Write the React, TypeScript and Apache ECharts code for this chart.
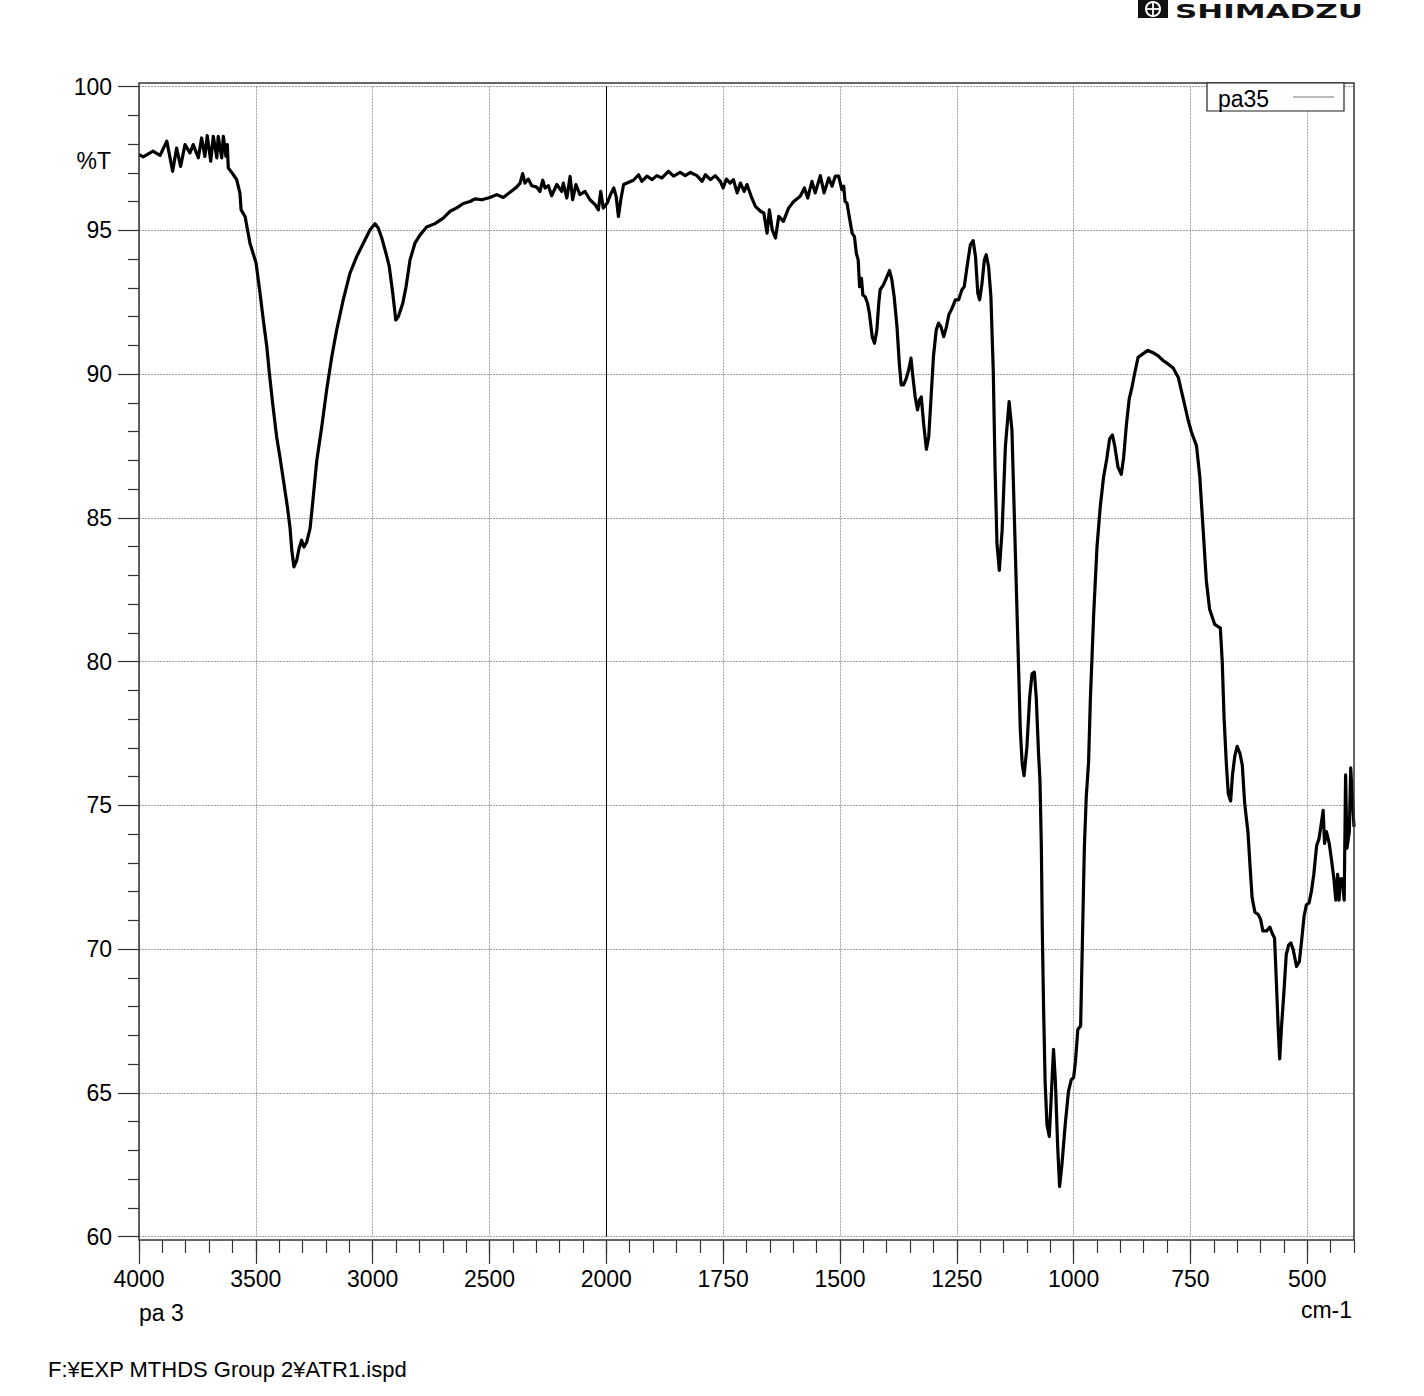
import React, { useEffect, useRef } from "react";
import * as echarts from "echarts";

// Wavenumber (cm-1) and %T
const wavenumbers = [
  3999, 3982, 3940, 3910, 3881, 3856, 3839, 3822, 3803, 3782, 3768, 3746, 3732, 3718, 3708, 3693, 3682, 3667, 3661, 3646,
  3639, 3628, 3622, 3618, 3596, 3582, 3568, 3563, 3546, 3525, 3499, 3482, 3468, 3453, 3442, 3428, 3411, 3397, 3382, 3365,
  3354, 3346, 3337, 3325, 3315, 3304, 3294, 3282, 3268, 3257, 3239, 3218, 3197, 3175, 3154, 3126, 3097, 3068, 3040, 3011,
  2990, 2976, 2961, 2943, 2929, 2914, 2901, 2890, 2871, 2857, 2840, 2819, 2797, 2769, 2733, 2698, 2669, 2640, 2612, 2583,
  2562, 2533, 2498, 2469, 2441, 2412, 2384, 2369, 2358, 2348, 2334, 2319, 2298, 2284, 2272, 2262, 2248, 2234, 2212, 2191,
  2184, 2169, 2155, 2144, 2130, 2113, 2091, 2070, 2048, 2034, 2024, 2013, 1998, 1991, 1984, 1979, 1974, 1969, 1963, 1952,
  1942, 1931, 1924, 1913, 1902, 1892, 1881, 1867, 1856, 1842, 1831, 1820, 1806, 1795, 1788, 1777, 1767, 1756, 1750, 1743,
  1735, 1728, 1720, 1713, 1705, 1699, 1690, 1681, 1670, 1663, 1656, 1651, 1645, 1638, 1631, 1621, 1610, 1599, 1585, 1576,
  1569, 1560, 1553, 1542, 1534, 1524, 1517, 1510, 1503, 1496, 1492, 1489, 1485, 1479, 1474, 1469, 1465, 1461, 1458, 1454,
  1451, 1446, 1441, 1437, 1431, 1426, 1421, 1417, 1414, 1407, 1401, 1394, 1389, 1384, 1378, 1373, 1369, 1364, 1358, 1353,
  1348, 1344, 1339, 1334, 1330, 1326, 1321, 1315, 1310, 1305, 1300, 1294, 1289, 1284, 1278, 1272, 1267, 1260, 1253, 1246,
  1239, 1234, 1228, 1221, 1215, 1210, 1205, 1201, 1196, 1191, 1187, 1182, 1177, 1172, 1168, 1164, 1159, 1153, 1146, 1138,
  1132, 1127, 1123, 1118, 1114, 1110, 1106, 1100, 1094, 1089, 1084, 1080, 1075, 1072, 1069, 1067, 1064, 1061, 1057, 1052,
  1048, 1043, 1039, 1034, 1030, 1025, 1018, 1011, 1005, 1000, 996, 991, 985, 983, 980, 977, 973, 968, 964, 957,
  950, 943, 936, 929, 923, 917, 912, 905, 898, 893, 887, 881, 876, 869, 862, 851, 841, 830, 819, 808,
  798, 787, 776, 769, 762, 755, 748, 737, 730, 723, 716, 709, 698, 686, 682, 678, 673, 669, 664, 660,
  655, 650, 644, 639, 634, 627, 622, 618, 612, 605, 600, 595, 587, 580, 575, 570, 566, 562, 559, 555,
  550, 545, 540, 535, 530, 523, 517, 512, 507, 502, 496, 491, 486, 480, 475, 471, 466, 463, 459, 453,
  448, 443, 439, 435, 432, 429, 425, 421, 418, 415, 410, 407, 404, 400,
];

const transmittance = [
  97.63, 97.55, 97.75, 97.6, 98.1, 97.05, 97.86, 97.22, 97.98, 97.69, 97.98, 97.52, 98.21, 97.57, 98.29, 97.4, 98.27, 97.52, 98.27, 97.52,
  98.27, 97.57, 97.98, 97.17, 96.93, 96.76, 96.29, 95.71, 95.48, 94.55, 93.86, 92.81, 91.88, 90.95, 90.02, 88.98, 87.82, 87.12, 86.31, 85.38,
  84.68, 83.87, 83.29, 83.52, 83.93, 84.22, 83.98, 84.16, 84.62, 85.49, 87.0, 88.16, 89.44, 90.6, 91.53, 92.58, 93.51, 94.09, 94.55, 95.02,
  95.23, 95.08, 94.73, 94.2, 93.74, 92.81, 91.88, 92.0, 92.46, 93.04, 93.97, 94.55, 94.84, 95.11, 95.23, 95.42, 95.66, 95.78, 95.93, 96.0,
  96.09, 96.06, 96.14, 96.24, 96.14, 96.32, 96.5, 96.64, 96.97, 96.64, 96.78, 96.55, 96.5, 96.35, 96.74, 96.47, 96.55, 96.2, 96.59, 96.35,
  96.64, 96.12, 96.87, 96.06, 96.59, 96.24, 96.35, 96.06, 95.89, 95.71, 96.35, 95.77, 95.95, 96.24, 96.47, 96.18, 95.48, 96.06, 96.59, 96.67,
  96.74, 96.93, 96.7, 96.88, 96.76, 96.9, 96.82, 97.05, 96.88, 97.01, 96.9, 97.01, 96.9, 96.7, 96.93, 96.76, 96.9, 96.7, 96.47, 96.78,
  96.64, 96.76, 96.3, 96.64, 96.35, 96.59, 96.18, 95.83, 95.66, 95.6, 94.9, 95.71, 95.02, 94.73, 95.48, 95.31, 95.77, 96.0, 96.18, 96.47,
  96.12, 96.7, 96.3, 96.9, 96.3, 96.82, 96.53, 96.88, 96.88, 96.41, 96.53, 96.0, 95.95, 95.37, 94.9, 94.78, 94.2, 93.97, 93.04, 93.33,
  92.75, 92.69, 92.46, 92.11, 91.3, 91.07, 91.53, 92.46, 92.93, 93.1, 93.33, 93.6, 93.28, 92.69, 91.65, 90.37, 89.62, 89.62, 89.85, 90.14,
  90.55, 89.91, 89.2, 88.75, 89.09, 89.2, 88.28, 87.38, 87.82, 89.2, 90.6, 91.53, 91.77, 91.65, 91.3, 91.65, 92.06, 92.29, 92.58, 92.58,
  92.93, 93.04, 93.74, 94.49, 94.64, 94.09, 92.81, 92.58, 93.16, 93.97, 94.15, 93.74, 92.69, 90.14, 86.66, 84.1, 83.17, 84.56, 87.47, 89.04,
  88.05, 85.15, 82.82, 79.92, 77.6, 76.43, 76.03, 77.02, 78.76, 79.57, 79.63, 78.76, 76.78, 75.85, 73.53, 70.63, 67.73, 65.4, 63.89, 63.48,
  64.82, 66.51, 65.4, 63.08, 61.74, 62.5, 63.89, 65.05, 65.46, 65.52, 66.1, 67.2, 67.32, 68.89, 71.21, 73.53, 75.27, 76.5, 78.76, 81.66,
  83.98, 85.38, 86.4, 87.05, 87.74, 87.88, 87.5, 86.76, 86.51, 87.09, 88.24, 89.14, 89.47, 90.05, 90.58, 90.71, 90.82, 90.74, 90.63, 90.46,
  90.35, 90.21, 89.88, 89.39, 88.9, 88.4, 87.99, 87.5, 86.43, 84.62, 82.81, 81.82, 81.29, 81.16, 80.01, 78.03, 76.39, 75.4, 75.15, 76.06,
  76.72, 77.05, 76.8, 76.39, 75.07, 74.08, 72.77, 71.78, 71.28, 71.2, 71.04, 70.63, 70.63, 70.76, 70.54, 70.38, 68.81, 67.17, 66.18, 67.33,
  68.49, 69.8, 70.13, 70.21, 69.97, 69.39, 69.56, 70.3, 71.12, 71.53, 71.61, 72.02, 72.6, 73.59, 73.83, 74.25, 74.82, 73.67, 74.08, 73.67,
  73.09, 72.44, 71.7, 72.6, 71.7, 72.44, 72.44, 71.7, 76.06, 73.51, 74.08, 76.3, 75.4, 74.25,
];

const xTickLabels = [4000, 3500, 3000, 2500, 2000, 1750, 1500, 1250, 1000, 750, 500];
const xMinorStep = 50; // axis position units
const yMin = 60;
const yMax = 100;
const yStep = 5;
const seriesName = "pa35";
const sampleLabel = "pa 3";
const unitLabel = "cm-1";
const yUnitLabel = "%T";
const filePath = "F:¥EXP MTHDS Group 2¥ATR1.ispd";
const brand = "SHIMADZU";

// Split scale: 4000-2000 compressed by 2, 2000-400 at full scale
function toPos(w: number): number {
  return w >= 2000 ? (4000 - w) / 2 : 3000 - w;
}
function toWave(p: number): number {
  return p <= 1000 ? 4000 - 2 * p : 3000 - p;
}

const FONT = "'Liberation Sans', Arial, sans-serif";

export default function App() {
  const ref = useRef<HTMLDivElement>(null);

  useEffect(() => {
    document.body.style.margin = "0";
    if (!ref.current) return;
    const chart = echarts.init(ref.current, undefined, { renderer: "svg" });

    const data = wavenumbers.map((w, i) => [toPos(w), transmittance[i]]);
    const majorPos = xTickLabels.map(toPos);
    const xMax = toPos(400);

    const gridLeft = 139;
    const gridRight = 1354;
    const gridTop = 86.5;
    const gridBottom = 1236.5;

    chart.setOption({
      animation: false,
      backgroundColor: "#fff",
      grid: {
        left: gridLeft,
        top: gridTop,
        width: gridRight - gridLeft,
        height: gridBottom - gridTop,
        containLabel: false,
      },
      xAxis: [
        {
          type: "value",
          position: "bottom",
          min: 0,
          max: xMax,
          interval: 250,
          offset: 3.5,
          axisLine: { show: false },
          axisTick: {
            show: true,
            inside: false,
            length: 24,
            customValues: majorPos,
            lineStyle: { color: "#333", width: 1.2 },
          },
          axisLabel: {
            show: true,
            customValues: majorPos,
            margin: 27,
            fontSize: 23,
            fontFamily: FONT,
            color: "#000",
            formatter: (v: number) => (majorPos.includes(v) ? String(toWave(v)) : ""),
          },
          splitLine: {
            show: true,
            lineStyle: { color: "#a0a0a0", type: [2, 1], width: 1 },
          },
        },
        {
          type: "value",
          position: "bottom",
          min: 0,
          max: xMax,
          interval: xMinorStep,
          offset: 3.5,
          axisLine: { show: false },
          axisTick: {
            show: true,
            inside: false,
            length: 13,
            lineStyle: { color: "#333", width: 1.2 },
          },
          axisLabel: { show: false },
          splitLine: { show: false },
        },
      ],
      yAxis: {
        type: "value",
        min: yMin,
        max: yMax,
        interval: yStep,
        axisLine: { show: false },
        axisTick: {
          show: true,
          inside: false,
          length: 21,
          lineStyle: { color: "#333", width: 1.2 },
        },
        minorTick: {
          show: true,
          splitNumber: 5,
          length: 11,
          lineStyle: { color: "#333", width: 1.2 },
        },
        axisLabel: {
          margin: 27,
          fontSize: 23,
          fontFamily: FONT,
          color: "#000",
        },
        splitLine: {
          show: true,
          lineStyle: { color: "#a0a0a0", type: [2, 1], width: 1 },
        },
      },
      series: [
        {
          name: seriesName,
          type: "line",
          xAxisIndex: 0,
          data,
          showSymbol: false,
          symbol: "none",
          smooth: false,
          lineStyle: { color: "#000", width: 3.2, join: "round" },
          z: 5,
          markLine: {
            silent: true,
            symbol: "none",
            label: { show: false },
            lineStyle: { color: "#000", type: "solid", width: 1 },
            data: [{ xAxis: toPos(2000) }],
            z: 3,
          },
        },
      ],
      graphic: [
        // plot frame
        {
          type: "rect",
          z: 20,
          silent: true,
          shape: { x: gridLeft, y: 83, width: gridRight - gridLeft, height: 1240 - 83 },
          style: { fill: "none", stroke: "#333", lineWidth: 1.5 },
        },
        // legend box
        {
          type: "rect",
          z: 21,
          shape: { x: 1207, y: 83, width: 137, height: 28 },
          style: { fill: "#fff", stroke: "#222", lineWidth: 1.2 },
        },
        {
          type: "text",
          z: 22,
          x: 1218,
          y: 99,
          style: {
            text: seriesName,
            fontSize: 23,
            fontFamily: FONT,
            fill: "#000",
            verticalAlign: "middle",
            align: "left",
          },
        },
        {
          type: "line",
          z: 22,
          shape: { x1: 1293, y1: 97, x2: 1334, y2: 97 },
          style: { stroke: "#777", lineWidth: 1 },
        },
        // y unit
        {
          type: "text",
          x: 111,
          y: 161,
          style: {
            text: yUnitLabel,
            fontSize: 23,
            fontFamily: FONT,
            fill: "#000",
            align: "right",
            verticalAlign: "middle",
          },
        },
        // sample label
        {
          type: "text",
          x: 139,
          y: 1313,
          style: {
            text: sampleLabel,
            fontSize: 23,
            fontFamily: FONT,
            fill: "#000",
            align: "left",
            verticalAlign: "middle",
          },
        },
        // unit label
        {
          type: "text",
          x: 1352,
          y: 1310,
          style: {
            text: unitLabel,
            fontSize: 23,
            fontFamily: FONT,
            fill: "#000",
            align: "right",
            verticalAlign: "middle",
          },
        },
        // footer
        {
          type: "text",
          x: 48,
          y: 1369,
          style: {
            text: filePath,
            fontSize: 22,
            fontFamily: FONT,
            fill: "#000",
            align: "left",
            verticalAlign: "middle",
          },
        },
        // logo
        {
          type: "rect",
          shape: { x: 1138, y: 0, width: 30, height: 18 },
          style: { fill: "#111" },
        },
        {
          type: "circle",
          shape: { cx: 1153, cy: 9, r: 7 },
          style: { fill: "none", stroke: "#fff", lineWidth: 2 },
        },
        {
          type: "line",
          shape: { x1: 1146, y1: 9, x2: 1160, y2: 9 },
          style: { stroke: "#fff", lineWidth: 1.8 },
        },
        {
          type: "line",
          shape: { x1: 1153, y1: 2, x2: 1153, y2: 16 },
          style: { stroke: "#fff", lineWidth: 1.8 },
        },
        {
          type: "text",
          x: 1175,
          y: 1,
          scaleX: 1.55,
          style: {
            text: brand,
            fontSize: 20,
            fontWeight: "bold",
            fontFamily: "'DejaVu Sans', sans-serif",
            fill: "#111",
            align: "left",
            verticalAlign: "top",
          },
        },
      ],
    });

    return () => {
      chart.dispose();
    };
  }, []);

  return <div ref={ref} style={{ width: 1424, height: 1396 }} />;
}
